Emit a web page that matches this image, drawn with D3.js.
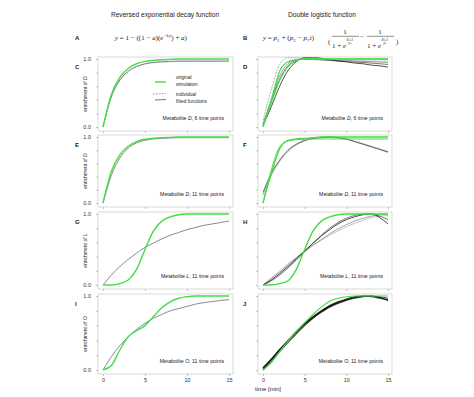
<!DOCTYPE html>
<html lang="en">
<head>
<meta charset="UTF-8">
<title>Reversed exponential decay vs double logistic fits</title>
<script src="https://cdnjs.cloudflare.com/ajax/libs/d3/7.8.5/d3.min.js"></script>
<style>
  body { margin: 0; background: #fff; }
  svg { font-family: "Liberation Sans", Arial, sans-serif; fill: #222; }
  .frame { fill: none; stroke: #cfcfcf; stroke-width: 0.8px; }
  .axis path { display: none; }
  .axis line { stroke: #9a9a9a; stroke-width: 0.6px; }
  .axis text { font-size: 5.5px; fill: #333; }
  .title { font-size: 6.6px; text-anchor: middle; }
  .letter { font-size: 6px; font-weight: bold; }
  .note { font-size: 5.2px; text-anchor: end; }
  .ylab { font-size: 5px; text-anchor: middle; }
  .math { font-family: "Liberation Serif", "DejaVu Serif", serif; font-size: 7px; }
  .legend text { font-size: 4.8px; }
  .curve { fill: none; }
</style>
</head>
<body>
<div id="chart"></div>
<script>
// time points (minutes) shared by every curve
const times = [0, 1, 2, 3, 4, 5, 6, 7, 8, 9, 10, 11, 12, 13, 14, 15];
const xTicks = [0, 5, 10, 15];
const yTicks = [0, 0.2, 0.4, 0.6, 0.8, 1.0];

// C: reversed exponential, metabolite D, 6 time points
const origC = [0, 0.48, 0.73, 0.86, 0.93, 0.965, 0.98, 0.99, 0.995, 1, 1, 1, 1, 1, 1, 1];
const fitC1 = [0, 0.45, 0.69, 0.82, 0.89, 0.93, 0.95, 0.96, 0.965, 0.97, 0.97, 0.97, 0.97, 0.97, 0.97, 0.97];
const fitC2 = [0, 0.44, 0.68, 0.81, 0.885, 0.925, 0.945, 0.955, 0.96, 0.965, 0.965, 0.965, 0.965, 0.965, 0.965, 0.965];
// E: reversed exponential, metabolite D, 11 time points
const origE = [0, 0.48, 0.73, 0.86, 0.93, 0.965, 0.98, 0.99, 0.995, 1, 1, 1, 1, 1, 1, 1];
const fitE = [0, 0.42, 0.68, 0.83, 0.91, 0.95, 0.97, 0.98, 0.985, 0.99, 0.99, 0.99, 0.99, 0.99, 0.99, 0.99];
// G: reversed exponential, metabolite L
const origG = [0, 0, 0.02, 0.07, 0.22, 0.5, 0.76, 0.9, 0.96, 0.99, 1, 1, 1, 1, 1, 1];
const fitG = [0, 0.14, 0.26, 0.36, 0.45, 0.53, 0.59, 0.65, 0.7, 0.74, 0.78, 0.81, 0.84, 0.86, 0.88, 0.9];
// I: reversed exponential, metabolite O
const origI = [0, 0.06, 0.27, 0.45, 0.53, 0.6, 0.72, 0.84, 0.92, 0.97, 0.99, 1, 1, 1, 1, 1];
const fitI = [0, 0.18, 0.33, 0.45, 0.55, 0.63, 0.7, 0.75, 0.8, 0.83, 0.86, 0.89, 0.91, 0.925, 0.94, 0.95];

// D: double logistic, metabolite D, 6 time points
const origD = [0, 0.4, 0.82, 0.96, 0.99, 1, 1, 1, 1, 1, 1, 1, 1, 1, 1, 1];
const fitD1 = [0.02, 0.3, 0.6, 0.83, 0.96, 1.02, 1.02, 1.01, 0.99, 0.97, 0.96, 0.94, 0.93, 0.91, 0.9, 0.88];
const fitD2 = [0.05, 0.4, 0.75, 0.93, 0.99, 1, 0.995, 0.99, 0.985, 0.98, 0.975, 0.97, 0.965, 0.96, 0.955, 0.95];
const fitD3 = [0.1, 0.55, 0.92, 1.02, 1.02, 1.0, 0.99, 0.985, 0.98, 0.978, 0.975, 0.973, 0.972, 0.971, 0.97, 0.97];
const fitD4 = [0.03, 0.38, 0.7, 0.9, 0.98, 1, 1, 0.99, 0.98, 0.97, 0.96, 0.955, 0.95, 0.94, 0.93, 0.92];
const fitD5 = [0.02, 0.35, 0.68, 0.88, 0.97, 1.01, 1.015, 1.005, 1, 1, 1, 1, 1, 1, 1, 1];
// F: double logistic, metabolite D, 11 time points
const origF = [0, 0.45, 0.82, 0.95, 0.97, 0.98, 0.99, 1, 1, 1, 1, 1, 1, 1, 1, 1];
const fitF1 = [0, 0.5, 0.85, 0.94, 0.96, 0.965, 0.97, 0.97, 0.97, 0.97, 0.97, 0.97, 0.97, 0.97, 0.97, 0.97];
const fitF2 = [0.16, 0.45, 0.65, 0.8, 0.89, 0.95, 0.98, 0.995, 1, 0.99, 0.97, 0.93, 0.89, 0.85, 0.81, 0.77];
const fitF3 = [0.12, 0.42, 0.63, 0.78, 0.88, 0.94, 0.975, 0.99, 0.995, 0.985, 0.965, 0.935, 0.9, 0.86, 0.82, 0.78];
// H: double logistic, metabolite L
const origH = [0, 0, 0.02, 0.06, 0.22, 0.5, 0.76, 0.9, 0.96, 0.99, 1, 1, 1, 1, 1, 1];
const fitH1 = [0, 0.07, 0.16, 0.26, 0.37, 0.48, 0.59, 0.69, 0.78, 0.86, 0.92, 0.96, 0.99, 1, 0.95, 0.86];
const fitH2 = [0, 0.09, 0.18, 0.28, 0.38, 0.47, 0.56, 0.64, 0.72, 0.79, 0.85, 0.9, 0.94, 0.97, 0.99, 1];
const fitH3 = [0, 0.1, 0.2, 0.3, 0.39, 0.48, 0.56, 0.63, 0.7, 0.76, 0.82, 0.87, 0.91, 0.95, 0.97, 0.98];
const fitH4 = [0, 0.06, 0.14, 0.24, 0.35, 0.47, 0.59, 0.7, 0.8, 0.88, 0.94, 0.98, 1, 1, 0.97, 0.92];
// J: double logistic, metabolite O
const origJ = [0, 0.1, 0.25, 0.39, 0.52, 0.64, 0.75, 0.85, 0.93, 0.97, 0.99, 1, 1, 1, 1, 1];
const fitJ1 = [0.02, 0.14, 0.27, 0.39, 0.51, 0.62, 0.71, 0.79, 0.86, 0.91, 0.95, 0.98, 0.995, 1, 0.98, 0.94];
const fitJ2 = [0, 0.12, 0.25, 0.37, 0.49, 0.6, 0.7, 0.78, 0.85, 0.9, 0.94, 0.97, 0.99, 1, 0.99, 0.97];
const fitJ3 = [0.03, 0.15, 0.28, 0.4, 0.52, 0.63, 0.72, 0.8, 0.87, 0.92, 0.96, 0.99, 1, 0.99, 0.97, 0.95];

const green = "#44dd44";

// Panel setup
const cols = [[98, 233], [258, 392]];
const rows = [[57, 131], [135, 207], [212, 289], [294, 374]];

const panels = [
  {id: "C", col: 0, row: 0, met: "D", n: 6, lines: [
    {v: fitC2, c: "#9a9a9a", dash: "2,1"}, {v: fitC1, c: "#6e6878"}, {v: origC, c: green, w: 1.4}]},
  {id: "D", col: 1, row: 0, met: "D", n: 6, lines: [
    {v: fitD3, c: "#9a9a9a", dash: "2,1"}, {v: fitD2, c: "#888"}, {v: fitD4, c: "#555"},
    {v: fitD1, c: "#222"}, {v: fitD5, c: green, w: 1}, {v: origD, c: green, w: 1.3}]},
  {id: "E", col: 0, row: 1, met: "D", n: 11, lines: [
    {v: fitE, c: "#6e6878"}, {v: origE, c: green, w: 1.4}]},
  {id: "F", col: 1, row: 1, met: "D", n: 11, lines: [
    {v: fitF3, c: "#999"}, {v: fitF2, c: "#444"}, {v: fitF1, c: green, w: 1}, {v: origF, c: green, w: 1.3}]},
  {id: "G", col: 0, row: 2, met: "L", n: 11, lines: [
    {v: fitG, c: "#6e6878"}, {v: origG, c: green, w: 1.4}]},
  {id: "H", col: 1, row: 2, met: "L", n: 11, lines: [
    {v: fitH3, c: "#b5b5b5"}, {v: fitH2, c: "#8a8a8a"}, {v: fitH4, c: "#555"},
    {v: fitH1, c: "#1e1e1e"}, {v: origH, c: green, w: 1.4}]},
  {id: "I", col: 0, row: 3, met: "O", n: 11, lines: [
    {v: fitI, c: "#6e6878"}, {v: origI, c: green, w: 1.4}]},
  {id: "J", col: 1, row: 3, met: "O", n: 11, lines: [
    {v: fitJ2, c: "#555", w: 1.2}, {v: fitJ3, c: "#333", w: 1.2}, {v: fitJ1, c: "#111", w: 1.2},
    {v: origJ, c: green, w: 1.2}]}
];

const svg = d3.select("#chart").append("svg")
  .attr("width", 474)
  .attr("height", 397);

// Column titles
svg.append("text").attr("class", "title").attr("x", 165).attr("y", 17)
  .text("Reversed exponential decay function");
svg.append("text").attr("class", "title").attr("x", 322).attr("y", 17)
  .text("Double logistic function");

svg.append("text").attr("class", "letter").attr("x", 75).attr("y", 40).text("A");
svg.append("text").attr("class", "letter").attr("x", 243).attr("y", 40).text("B");

// helpers for math text
function it(t, s) { return t.append("tspan").attr("font-style", "italic").text(s); }
function rm(t, s) { return t.append("tspan").text(s); }
function sub(t, s) {
  t.append("tspan").attr("dy", 1.5).attr("font-size", "4.5px").text(s);
  t.append("tspan").attr("dy", -1.5).text("\u200a");
}

// Formula A
const fa = svg.append("text").attr("class", "math").attr("x", 115).attr("y", 40);
it(fa, "y"); rm(fa, " = 1 − ((1 − "); it(fa, "a"); rm(fa, ")("); it(fa, "e");
fa.append("tspan").attr("dy", -3).attr("font-size", "4.5px").attr("font-style", "italic").text("−k");
fa.append("tspan").attr("dy", 1).attr("font-size", "3.2px").text("1");
fa.append("tspan").attr("dy", -1).attr("font-size", "4.5px").attr("font-style", "italic").text("t");
fa.append("tspan").attr("dy", 3).text(") + "); it(fa, "a"); rm(fa, ")");

// Formula B
const fb = svg.append("text").attr("class", "math").attr("x", 263).attr("y", 40);
it(fb, "y"); rm(fb, " = "); it(fb, "p"); sub(fb, "1"); rm(fb, " + ("); it(fb, "p"); sub(fb, "2");
rm(fb, " − "); it(fb, "p"); sub(fb, "7"); it(fb, "t"); rm(fb, ")");

svg.append("text").attr("class", "math").attr("x", 328).attr("y", 44)
  .attr("font-size", "19px").text("(");
svg.append("text").attr("class", "math").attr("x", 396).attr("y", 44)
  .attr("font-size", "19px").text(")");
svg.append("text").attr("class", "math").attr("x", 362).attr("y", 39)
  .attr("text-anchor", "middle").text("−");

function fraction(cx, s1, s2) {
  svg.append("text").attr("class", "math").attr("x", cx).attr("y", 34)
    .attr("text-anchor", "middle").text("1");
  svg.append("line").attr("x1", cx - 13).attr("x2", cx + 14).attr("y1", 36.3).attr("y2", 36.3)
    .attr("stroke", "#222").attr("stroke-width", 0.5);
  const ex = cx + 1.8;
  // denominator with its exponent fraction kept in one text element
  const den = svg.append("text").attr("class", "math").attr("x", cx - 13).attr("y", 47.8);
  rm(den, "1 + "); it(den, "e");
  den.append("tspan").attr("x", ex).attr("dy", -8.2).attr("font-size", "3.2px")
    .attr("font-style", "italic").text("p");
  den.append("tspan").attr("font-size", "2.4px").text(s1);
  den.append("tspan").attr("font-size", "3.2px").attr("font-style", "italic").text("−t");
  den.append("tspan").attr("x", ex + 1.8).attr("dy", 4).attr("font-size", "3.2px")
    .attr("font-style", "italic").text("p");
  den.append("tspan").attr("font-size", "2.4px").text(s2);
  svg.append("line").attr("x1", ex).attr("x2", ex + 6.5).attr("y1", 40.4).attr("y2", 40.4)
    .attr("stroke", "#222").attr("stroke-width", 0.3);
}
fraction(345, "3", "4");
fraction(380, "5", "6");

const line = d3.line().curve(d3.curveMonotoneX);

panels.forEach(p => {
  const [x0, x1] = cols[p.col];
  const [y0, y1] = rows[p.row];
  const x = d3.scaleLinear().domain([0, 15]).range([x0 + 5, x1 - 4]);
  const y = d3.scaleLinear().domain([0, 1]).range([y1 - 4, y0 + 2]);
  const g = svg.append("g");
  const isLeft = p.col === 0;
  const isBottom = p.row === 3;

  g.append("rect").attr("class", "frame")
    .attr("x", x0).attr("y", y0).attr("width", x1 - x0).attr("height", y1 - y0);

  g.append("g").attr("class", "axis")
    .attr("transform", `translate(${x0},0)`)
    .call(d3.axisLeft(y).tickValues(yTicks).tickSize(2).tickPadding(5)
      .tickFormat(d => isLeft && (d === 0 || d === 1) ? d3.format(".1f")(d) : ""));

  g.append("g").attr("class", "axis")
    .attr("transform", `translate(0,${y1})`)
    .call(d3.axisBottom(x).tickValues(xTicks).tickSize(2).tickPadding(2.5)
      .tickFormat(d => isBottom ? d : ""));

  p.lines.forEach(s => {
    g.append("path").attr("class", "curve")
      .attr("d", line(s.v.map((v, i) => [x(times[i]), y(v)])))
      .attr("stroke", s.c)
      .attr("stroke-width", s.w || 0.8)
      .attr("stroke-dasharray", s.dash || null);
  });

  // panel letter
  g.append("text").attr("class", "letter")
    .attr("x", isLeft ? 75 : 243).attr("y", y0 + 12).text(p.id);

  // y label
  if (isLeft) {
    const yl = g.append("text").attr("class", "ylab")
      .attr("transform", `translate(87,${(y0 + y1) / 2}) rotate(-90)`);
    yl.append("tspan").text("enrichment of ");
    yl.append("tspan").attr("font-style", "italic").text(p.met);
  }

  // annotation
  const nt = g.append("text").attr("class", "note")
    .attr("x", x1 - 9).attr("y", y(0.1));
  nt.append("tspan").text("Metabolite ");
  nt.append("tspan").attr("font-style", "italic").text(p.met);
  nt.append("tspan").text(`, ${p.n} time points`);
});

// legend in panel C
const lg = svg.append("g").attr("class", "legend");
lg.append("line").attr("x1", 155).attr("x2", 166).attr("y1", 82).attr("y2", 82)
  .attr("stroke", green).attr("stroke-width", 1.4);
lg.append("text").attr("x", 176).attr("y", 79).text("original");
lg.append("text").attr("x", 176).attr("y", 85.5).text("simulation");
lg.append("line").attr("x1", 153).attr("x2", 166).attr("y1", 94).attr("y2", 93.5)
  .attr("stroke", "#9a9a9a").attr("stroke-width", 0.8).attr("stroke-dasharray", "2,1");
lg.append("line").attr("x1", 155).attr("x2", 166).attr("y1", 100).attr("y2", 99.5)
  .attr("stroke", "#555").attr("stroke-width", 0.8);
lg.append("text").attr("x", 176).attr("y", 95.5).text("individual");
lg.append("text").attr("x", 176).attr("y", 102.5).text("fitted functions");

// x axis title
svg.append("text").attr("x", 268).attr("y", 391).attr("text-anchor", "middle")
  .attr("font-size", "6px").text("time [min]");
</script>
</body>
</html>
